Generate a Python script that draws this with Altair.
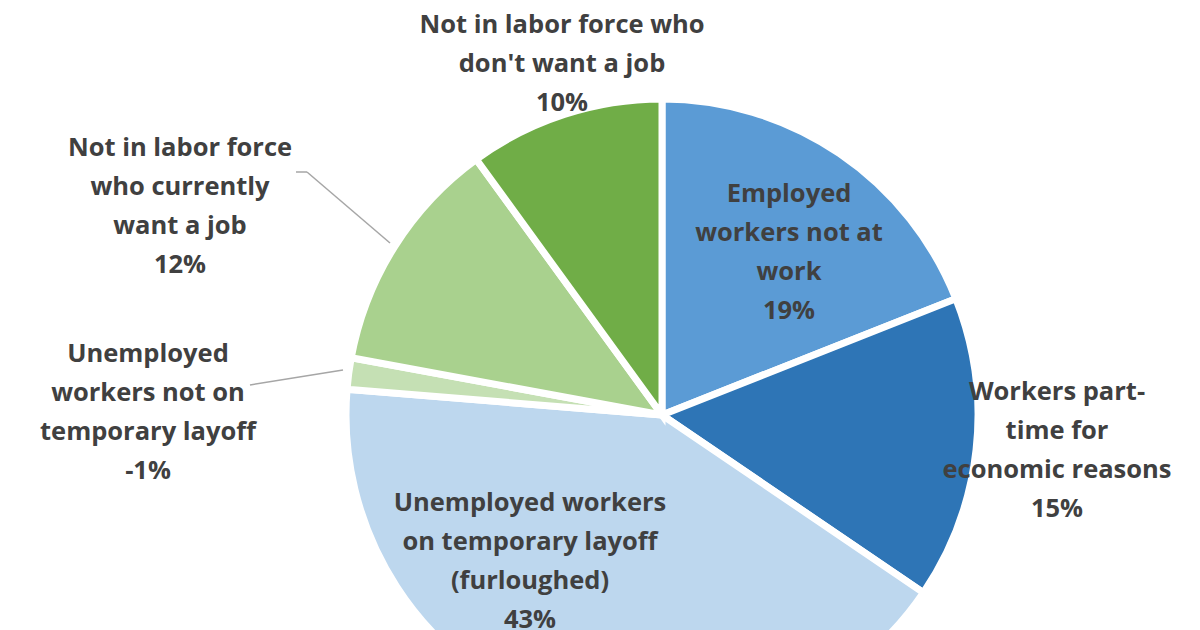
import altair as alt
import pandas as pd

# ---- data ----
categories = [
    "Employed workers not at work",
    "Workers part-time for economic reasons",
    "Unemployed workers on temporary layoff (furloughed)",
    "Unemployed workers not on temporary layoff",
    "Not in labor force who currently want a job",
    "Not in labor force who don't want a job",
]
slice_sizes = [19.0, 15.5, 41.8, 1.6, 12.1, 10.0]   # angular size of each slice
shown_pct = ["19%", "15%", "43%", "-1%", "12%", "10%"]  # printed labels
label_lines = [
    ["Employed", "workers not at", "work"],
    ["Workers part-", "time for", "economic reasons"],
    ["Unemployed workers", "on temporary layoff", "(furloughed)"],
    ["Unemployed", "workers not on", "temporary layoff"],
    ["Not in labor force", "who currently", "want a job"],
    ["Not in labor force who", "don't want a job"],
]
colors = ["#5B9BD5", "#2E75B6", "#BDD7EE", "#C5E0B4", "#A9D18E", "#70AD47"]

# ---- layout (plot-area pixels) ----
CX, CY, R = 654, 407, 316
label_x = [781, 1049, 522, 140, 172, 554]
label_y = [194, 392, 503, 354, 148, 25]
LINE_H = 39
TEXT_COLOR = "#404040"
FONT = "Open Sans"

pie_df = pd.DataFrame({
    "category": categories,
    "value": slice_sizes,
    "order": list(range(len(categories))),
})

lab_df = pd.DataFrame({
    "category": categories,
    "text": [lines + [p] for lines, p in zip(label_lines, shown_pct)],
    "lx": label_x,
    "ly": label_y,
})

leader_df = pd.DataFrame({
    "x": [288, 299, 242],
    "y": [164, 164, 377],
    "x2": [299, 382, 335],
    "y2": [164, 235, 362],
})

pie = alt.Chart(pie_df).mark_arc(
    outerRadius=R, stroke="white", strokeWidth=7, strokeJoin="miter"
).encode(
    theta=alt.Theta("value:Q", stack=True),
    order=alt.Order("order:Q"),
    color=alt.Color("category:N", scale=alt.Scale(domain=categories, range=colors), legend=None),
    x=alt.value(CX),
    y=alt.value(CY),
)

labels = alt.Chart(lab_df).mark_text(
    font=FONT, fontSize=25.5, fontWeight="bold", color=TEXT_COLOR,
    align="center", baseline="alphabetic", lineHeight=LINE_H,
).encode(
    x=alt.X("lx:Q", scale=None),
    y=alt.Y("ly:Q", scale=None),
    text="text",
)

leaders = alt.Chart(leader_df).mark_rule(color="#A6A6A6", strokeWidth=1.5).encode(
    x=alt.X("x:Q", scale=None),
    y=alt.Y("y:Q", scale=None),
    x2="x2:Q",
    y2="y2:Q",
)

chart = alt.layer(pie, leaders, labels).properties(
    width=1184, height=622,
    autosize=alt.AutoSizeParams(type="none"),
    padding=0,
).configure_view(stroke=None)

chart.save("out.html", embed_options={"renderer": "svg", "actions": False})
